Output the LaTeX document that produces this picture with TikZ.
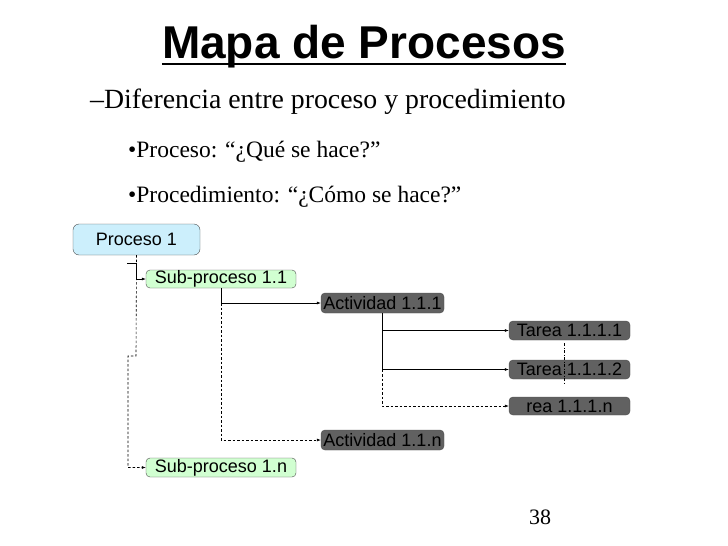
\documentclass[tikz,border=0pt]{standalone}
\usepackage{fontspec}
\setmainfont{Liberation Serif}
\setsansfont{Liberation Sans}
\usetikzlibrary{arrows.meta}
\begin{document}
\begin{tikzpicture}[x=1pt,y=-1pt,
  bx/.style={draw=black!70,rounded corners=4pt,inner sep=0pt,font=\sffamily\fontsize{18}{18}\selectfont},
  grn/.style={bx,fill=green!18},
  drk/.style={bx,fill=black!62,text=black},
  con/.style={-{Latex[length=4pt,width=3pt]},line width=0.6pt},
  dsh/.style={con,dashed,dash pattern=on 2.5pt off 2pt}]
\useasboundingbox (0,0) rectangle (728,546);
\node[font=\sffamily\bfseries\fontsize{46}{48}\selectfont,inner sep=0pt] (title) at (364,47) {Mapa de Procesos};
\draw[line width=2pt] ([yshift=5pt]title.south west) -- ([yshift=5pt]title.south east);
\node[anchor=west,inner sep=0pt,font=\fontsize{27.8}{30}\selectfont] (l1) at (90,102) {–Diferencia entre proceso y procedimiento};
\node[anchor=west,inner sep=0pt,font=\fontsize{23.5}{26}\selectfont] (l2) at (128,152) {•Proceso: “¿Qué se hace?”};
\node[anchor=west,inner sep=0pt,font=\fontsize{23.5}{26}\selectfont] (l3) at (128,197) {•Procedimiento: “¿Cómo se hace?”};
\node[bx,fill=cyan!20,minimum width=127pt,minimum height=31pt,rounded corners=6pt] (p1) at (136.5,239.5) {Proceso 1};
\node[grn,minimum width=150pt,minimum height=18pt] (s11) at (221,279) {Sub-proceso 1.1};
\node[grn,minimum width=150pt,minimum height=19pt] (s1n) at (221,467.5) {Sub-proceso 1.n};
\node[drk,minimum width=123pt,minimum height=20pt] (a111) at (382.5,303) {Actividad 1.1.1};
\node[drk,minimum width=123pt,minimum height=20pt] (a11n) at (382.5,440) {Actividad 1.1.n};
\node[drk,minimum width=121pt,minimum height=19pt] (t1) at (569.5,330.5) {Tarea 1.1.1.1};
\node[drk,minimum width=121pt,minimum height=19pt] (t2) at (569.5,369.5) {Tarea 1.1.1.2};
\node[drk,minimum width=121pt,minimum height=18pt] (tn) at (569.5,406) {rea 1.1.1.n};
\node[font=\fontsize{22}{24}\selectfont] (pg) at (540,517) {38};
\coordinate (c0) at (127,263);
\draw[con] (c0) -- (136,263) |- (s11.west);
\draw[dsh] (p1.south) -- (136,356) -- (128,356) |- (s1n.west);
\draw[con] (s11.south) |- (a111.west);
\draw[dsh] (221,303) |- (a11n.west);
\draw[con] (a111.south) |- (t1.west);
\draw[con] (382,329) |- (t2.west);
\draw[dsh] (382,369.5) |- (tn.west);
\draw[dash pattern=on 3pt off 1.5pt on 1pt off 1.5pt,line width=0.5pt] (564,343) -- (564,385);
\end{tikzpicture}
\end{document}
